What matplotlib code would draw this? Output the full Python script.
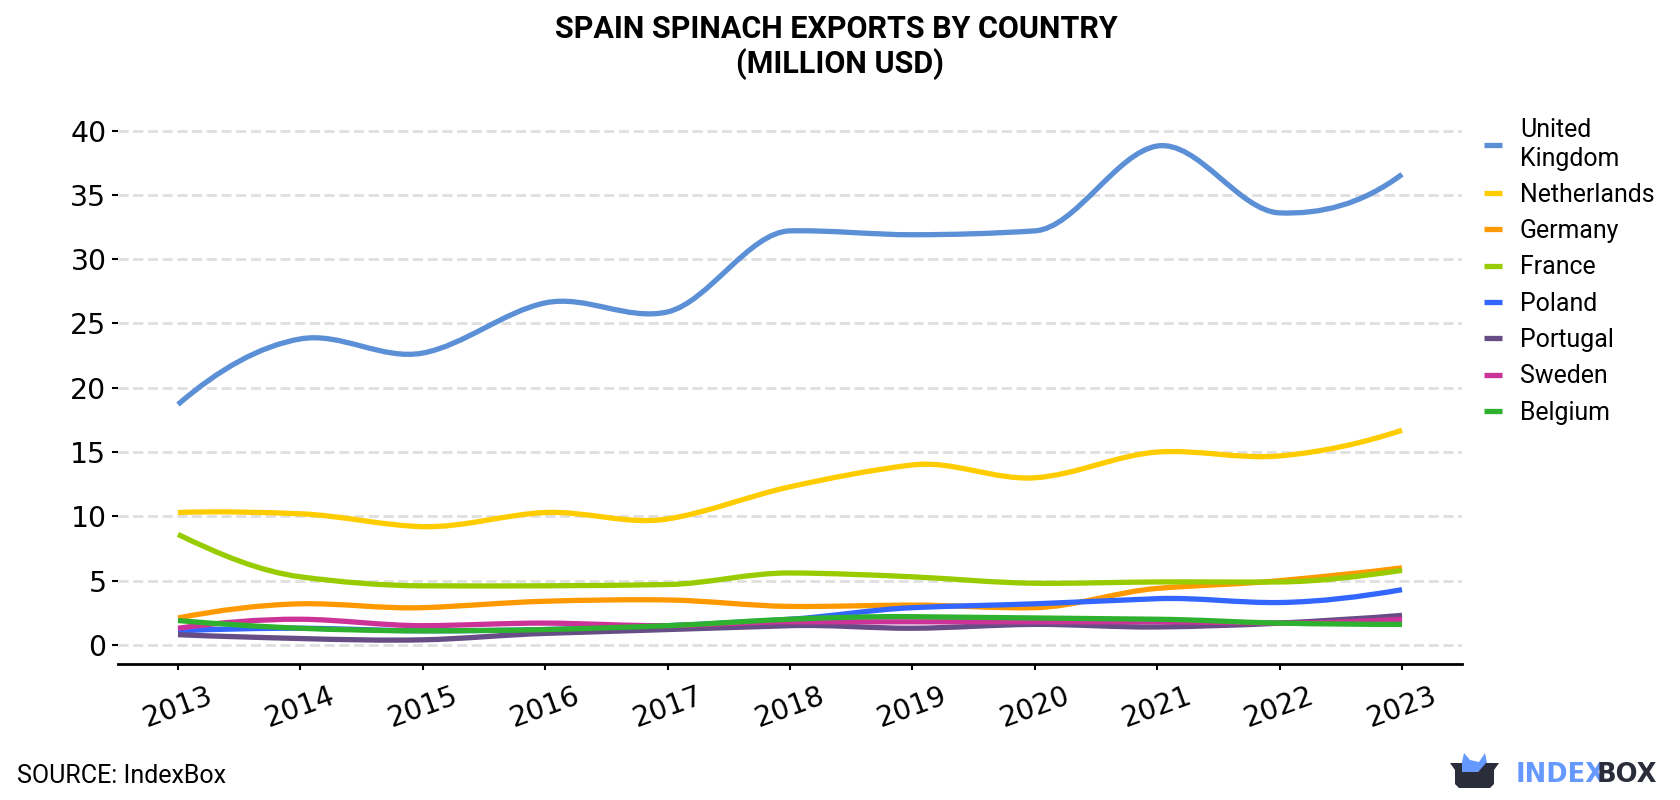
import matplotlib
matplotlib.use("Agg")
import matplotlib.pyplot as plt
from matplotlib.patches import PathPatch, Polygon
from matplotlib.path import Path
import numpy as np

# Config
W, H = 1680, 800
YEARS = [2013, 2014, 2015, 2016, 2017, 2018, 2019, 2020, 2021, 2022, 2023]
UNITED_KINGDOM = [18.7, 23.8, 22.7, 26.6, 25.9, 32.2, 31.9, 32.2, 38.8, 33.6, 36.6]
NETHERLANDS = [10.3, 10.2, 9.2, 10.3, 9.8, 12.3, 14.0, 13.0, 15.0, 14.7, 16.7]
GERMANY = [2.1, 3.2, 2.9, 3.4, 3.5, 3.0, 3.1, 2.9, 4.4, 5.0, 6.0]
FRANCE = [8.6, 5.3, 4.6, 4.6, 4.7, 5.6, 5.3, 4.8, 4.9, 4.9, 5.8]
POLAND = [1.1, 1.3, 1.1, 1.2, 1.5, 2.0, 2.9, 3.2, 3.6, 3.3, 4.3]
PORTUGAL = [0.8, 0.5, 0.4, 0.9, 1.2, 1.5, 1.3, 1.6, 1.4, 1.7, 2.3]
SWEDEN = [1.3, 2.0, 1.5, 1.7, 1.5, 1.8, 1.8, 1.8, 1.8, 1.7, 2.0]
BELGIUM = [1.9, 1.3, 1.1, 1.2, 1.5, 2.0, 2.2, 2.1, 2.0, 1.7, 1.6]
Y_TICKS = [0, 5, 10, 15, 20, 25, 30, 35, 40]

# Drawn in this order, later series sit on top
SERIES = [
    ("United\nKingdom", UNITED_KINGDOM, "#5b8fd6"),
    ("Netherlands", NETHERLANDS, "#ffcc00"),
    ("Germany", GERMANY, "#ff9900"),
    ("France", FRANCE, "#99cc00"),
    ("Poland", POLAND, "#3366ff"),
    ("Portugal", PORTUGAL, "#664d85"),
    ("Sweden", SWEDEN, "#cc3399"),
    ("Belgium", BELGIUM, "#2eb12e"),
]


def smooth_path(xs, ys):
    # Akima tangents at each yearly value, joined with cubic Bezier segments
    xs = np.asarray(xs, dtype=float)
    ys = np.asarray(ys, dtype=float)
    h = np.diff(xs)
    s = np.diff(ys) / h
    s = np.concatenate([[3 * s[0] - 2 * s[1], 2 * s[0] - s[1]], s,
                        [2 * s[-1] - s[-2], 3 * s[-1] - 2 * s[-2]]])
    w1 = np.abs(s[3:] - s[2:-1])
    w2 = np.abs(s[1:-2] - s[:-3])
    total = w1 + w2
    m = np.where(total > 1e-9,
                 (w1 * s[1:-2] + w2 * s[2:-1]) / np.where(total > 1e-9, total, 1),
                 (s[1:-2] + s[2:-1]) / 2)
    verts = [(xs[0], ys[0])]
    codes = [Path.MOVETO]
    for i in range(len(xs) - 1):
        verts += [(xs[i] + h[i] / 3, ys[i] + m[i] * h[i] / 3),
                  (xs[i + 1] - h[i] / 3, ys[i + 1] - m[i + 1] * h[i] / 3),
                  (xs[i + 1], ys[i + 1])]
        codes += [Path.CURVE4] * 3
    return Path(verts, codes)


fig = plt.figure(figsize=(W / 100, H / 100), dpi=100)
ax = fig.add_axes([118 / W, 1 - 664 / H, (1462 - 118) / W, (664 - 110) / H])
ax.set_xlim(2013 - 0.49, 2023 + 0.49)
ax.set_ylim(-1.48, 41.6)

for label, values, color in SERIES:
    ax.add_patch(PathPatch(smooth_path(YEARS, values), fill=False, edgecolor=color,
                           linewidth=3.8, capstyle='butt', zorder=3))
    ax.plot([], [], color=color, linewidth=3.8, label=label, solid_capstyle='butt')

# Tick labels stay in the default DejaVu Sans
ax.set_xticks(YEARS)
ax.set_yticks(Y_TICKS)
ax.tick_params(axis='x', labelsize=20.4, labelrotation=20, width=1.5, length=4.5, pad=8)
ax.tick_params(axis='y', labelsize=20.4, width=1.5, length=4.5, pad=3.8)
ax.grid(True, axis='y', color='#dfdfdf', linewidth=2, linestyle=(0, (3.6, 1.7)))
ax.set_axisbelow(True)
for name in ['top', 'right', 'left']:
    ax.spines[name].set_visible(False)
ax.spines['bottom'].set_linewidth(2)

# Title and footer
fig.text(836.3 / W, 1 - 29 / H, "SPAIN SPINACH EXPORTS BY COUNTRY", ha='center', va='center',
         family='Roboto', fontsize=22, fontweight='bold')
fig.text(840 / W, 1 - 64 / H, "(MILLION USD)", ha='center', va='center',
         family='Roboto', fontsize=22, fontweight='bold')
fig.text(17 / W, 1 - 776 / H, "SOURCE: IndexBox", ha='left', va='center', family='Roboto', fontsize=18)

ax.legend(loc='upper left', bbox_to_anchor=(1484 / W, 1 - 118 / H), bbox_transform=fig.transFigure,
          frameon=False, prop={'family': 'Roboto', 'size': 17.9}, handlelength=0.72, handletextpad=0.72,
          labelspacing=0.495, borderpad=0, borderaxespad=0, alignment='left')
for t in ax.get_legend().get_texts():
    t.set_linespacing(1.24)

# Logo: open box with a blue shape sticking out, then the wordmark
logo = fig.add_axes([0, 0, 1, 1], facecolor='none')
logo.set_xlim(0, W)
logo.set_ylim(H, 0)
logo.axis('off')
logo.add_patch(Polygon([[1462, 762], [1464, 753], [1470, 760], [1479, 762], [1485, 753], [1487, 763],
                        [1478, 772], [1462, 772]], closed=True, facecolor='#6699ff', edgecolor='none'))
logo.add_patch(Polygon([[1450, 763], [1462, 763], [1462, 772], [1478, 772], [1486, 763], [1499, 763],
                        [1494, 770], [1494, 784], [1490, 788], [1459, 788], [1455, 784], [1455, 770]],
                       closed=True, facecolor='#2b2d3a', edgecolor='none'))
logo.text(1516, 782, "INDEX", color='#6699ff', fontsize=18.5, fontweight='bold', ha='left', va='baseline')
logo.text(1597, 782, "BOX", color='#2b2d3a', fontsize=18.5, fontweight='bold', ha='left', va='baseline')

fig.savefig("out.png", dpi=100)
